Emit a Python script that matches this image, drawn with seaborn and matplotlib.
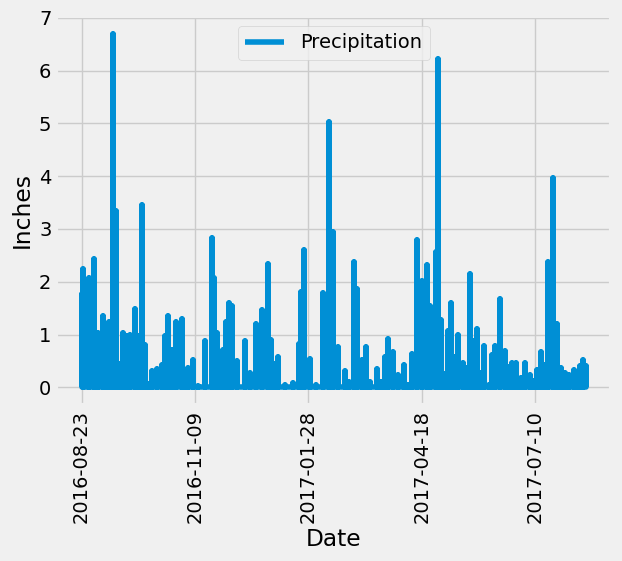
import numpy as np
import pandas as pd
import matplotlib
matplotlib.use('Agg')
import matplotlib.pyplot as plt
import seaborn as sns

tick_rows = [0, 500, 1000, 1500, 2000]
tick_dates = ['2016-08-23', '2016-11-09', '2017-01-28', '2017-04-18', '2017-07-10']
y_ticks = [0, 1, 2, 3, 4, 5, 6, 7]

# wet readings, row number in the sorted table and inches
wet_rows = [0, 8, 33, 55, 73, 95, 112, 122, 138, 150, 165, 185, 201, 214, 236, 249, 265, 280, 293, 310,
            333, 355, 368, 380, 399, 415, 442, 459, 470, 490, 514, 545, 574, 584, 598, 611, 624, 636, 650, 662,
            684, 720, 743, 770, 796, 822, 834, 848, 865, 897, 933, 959, 968, 981, 1008, 1034, 1065, 1091, 1109, 1131,
            1159, 1180, 1202, 1214, 1236, 1255, 1272, 1300, 1321, 1338, 1350, 1372, 1394, 1419, 1440, 1456, 1479, 1500, 1522, 1537,
            1561, 1571, 1584, 1600, 1616, 1630, 1644, 1657, 1679, 1696, 1713, 1726, 1743, 1757, 1775, 1795, 1809, 1824, 1846, 1864,
            1881, 1897, 1915, 1929, 1938, 1953, 1978, 1995, 2009, 2026, 2039, 2056, 2078, 2095, 2114, 2132, 2149, 2168, 2185, 2198,
            2210, 2222]
wet_inches = [1.76, 2.25, 2.08, 2.44, 1.02, 1.35, 1.17, 1.24, 6.7, 3.35, 0.44, 1.02, 0.97, 1.0, 1.48, 0.97, 3.45, 0.81, 0.07, 0.3,
              0.34, 0.42, 0.97, 1.36, 0.7, 1.24, 1.3, 0.08, 0.37, 0.51, 0.03, 0.87, 2.83, 2.07, 1.02, 0.65, 0.71, 1.24, 1.6, 1.55,
              0.5, 0.87, 0.28, 1.2, 1.46, 2.33, 0.9, 0.45, 0.57, 0.05, 0.08, 0.82, 1.81, 2.6, 0.53, 0.05, 1.79, 5.02, 2.95, 0.77,
              0.31, 0.1, 2.38, 1.87, 0.52, 0.77, 0.1, 0.34, 0.1, 0.58, 0.91, 0.66, 0.23, 0.42, 0.05, 0.63, 2.8, 2.02, 2.31, 1.55,
              2.57, 6.22, 1.27, 0.26, 1.07, 1.59, 0.57, 0.99, 0.47, 0.37, 2.15, 0.87, 1.11, 0.27, 0.79, 0.05, 0.62, 0.79, 1.67, 0.68,
              0.39, 0.47, 0.47, 0.05, 0.17, 0.47, 0.24, 0.12, 0.32, 0.66, 0.42, 2.38, 3.97, 1.2, 0.37, 0.28, 0.23, 0.33, 0.12, 0.41,
              0.51, 0.41]

# dry readings on both sides of every wet one, the line rises and drops straight
dry = np.zeros(len(wet_inches))
df = pd.DataFrame({
    'row': np.repeat(wet_rows, 3),
    'Precipitation': np.ravel(np.column_stack([dry, wet_inches, dry])),
})

plt.style.use('fivethirtyeight')
fig = plt.figure(figsize=(6.22, 5.61), dpi=100)
ax = fig.add_axes([56.3 / 622, 156 / 561, 554.7 / 622, 389 / 561])

sns.lineplot(data=df, x='row', y='Precipitation', estimator=None, sort=False,
             color='#008fd5', linewidth=4, label='Precipitation', ax=ax)

ax.set_xticks(tick_rows)
ax.set_xticklabels(tick_dates, rotation=90)
ax.set_yticks(y_ticks)
ax.set_xlabel('Date')
ax.set_ylabel('Inches')
ax.legend(loc='upper center')

fig.savefig('out.png', dpi=100)
